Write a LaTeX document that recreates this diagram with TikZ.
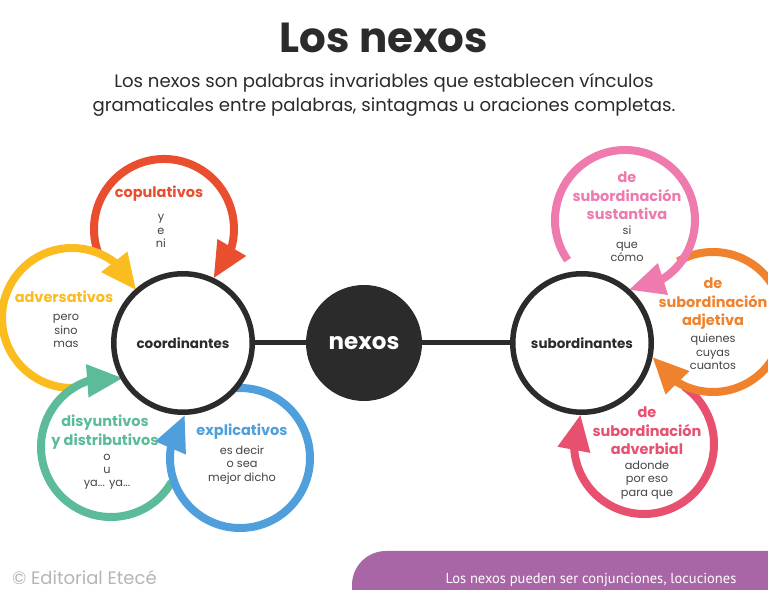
\documentclass[tikz,border=0pt]{standalone}
\usepackage{fontspec}
\setmainfont{Poppins}
\newfontfamily\ptsans{PT Sans}
\usetikzlibrary{arrows.meta,bending}
\definecolor{cred}{HTML}{E94E2F}
\definecolor{cyellow}{HTML}{FBBC1F}
\definecolor{cgreen}{HTML}{5CBB98}
\definecolor{cblue}{HTML}{4E9FDB}
\definecolor{cpink}{HTML}{EE7AAE}
\definecolor{corange}{HTML}{F0822E}
\definecolor{ccrimson}{HTML}{E8506F}
\definecolor{cdark}{HTML}{2B2B2B}
\definecolor{ctext}{HTML}{444444}
\definecolor{cpurple}{HTML}{A966A6}
\definecolor{cgray}{HTML}{B5B5B5}
\tikzset{
  ring/.style={line width=8pt, line cap=butt, -{Triangle[width=31pt,length=36pt]}},
  hub/.style={circle, draw=cdark, line width=5.5pt, fill=white, minimum size=138.5pt, inner sep=0pt,
    font=\bfseries\fontsize{13.5}{16}\selectfont, text=cdark},
  head/.style={font=\bfseries\fontsize{14.5}{18.5}\selectfont, align=center, inner sep=0pt},
  items/.style={font=\fontsize{11.3}{13.3}\selectfont, text=ctext, align=center, inner sep=0pt},
  link/.style={draw=cdark, line width=5pt}
}
\begin{document}
\begin{tikzpicture}[x=1pt,y=1pt]
\useasboundingbox (0,0) rectangle (768,589);
\clip (0,0) rectangle (768,589);
\fill[white] (0,0) rectangle (768,589);

% circle centres
\coordinate (cR) at (164,360);
\coordinate (cY) at (72,271);
\coordinate (cG) at (111,142);
\coordinate (cB) at (240,131);
\coordinate (cP) at (625,369);
\coordinate (cO) at (713,267);
\coordinate (cC) at (644,145);

% title
\node[font=\bfseries\fontsize{42}{48}\selectfont, text=cdark, inner sep=0pt] (title) at (384,551) {Los nexos};
\node[font=\fontsize{18.1}{24}\selectfont, text=cdark, align=center, inner sep=0pt] (sub) at (384,494)
  {Los nexos son palabras invariables que establecen vínculos\\gramaticales entre palabras, sintagmas u oraciones completas.};

% left rings
\draw[ring, cred] (cR) ++(200:70) arc[start angle=200, end angle=-45, radius=70];
\draw[ring, cyellow] (cY) ++(272:70) arc[start angle=272, end angle=23.3, radius=70];
\draw[ring, cgreen] (cG) ++(-30:70) arc[start angle=-30, end angle=-280, radius=70];
\draw[ring, cblue] (cB) ++(95:70) arc[start angle=95, end angle=-218, radius=70];

% right rings
\draw[ring, ccrimson] (cC) ++(55:70) arc[start angle=55, end angle=-205, radius=70];
\draw[ring, corange] (cO) ++(120:70) arc[start angle=120, end angle=-150, radius=70];
\draw[ring, cpink] (cP) ++(215:70) arc[start angle=215, end angle=-87, radius=70];

% hubs
\node[hub] (coord) at (183,246) {coordinantes};
\node[hub] (subord) at (582,246) {subordinantes};
\node[circle, fill=cdark, minimum size=116pt, inner sep=0pt, text=white,
  font=\bfseries\fontsize{23}{26}\selectfont] (nexos) at (364,246) {nexos};
\draw[link] (coord) -- (nexos);
\draw[link] (nexos) -- (subord);

% left labels
\node[head, text=cred] (lcop) at (159,395) {copulativos};
\node[items] (icop) at (161,358) {y\\e\\ni};
\node[head, text=cyellow] (ladv) at (64,292) {adversativos};
\node[items] (iadv) at (66,258) {pero\\sino\\mas};
\node[head, text=cgreen] (ldis) at (105,157) {disyuntivos\\y distributivos};
\node[items] (idis) at (107,117) {o\\u\\ya... ya...};
\node[head, text=cblue] (lexp) at (242,157) {explicativos};
\node[items] (iexp) at (242,124) {es decir\\o sea\\mejor dicho};

% right labels
\node[head, text=cpink] (lsus) at (627,393.3) {de\\subordinación\\sustantiva};
\node[items] (isus) at (627,345) {si\\que\\cómo};
\node[head, text=corange] (ladj) at (713,285.3) {de\\subordinación\\adjetiva};
\node[items] (iadj) at (713,237) {quienes\\cuyas\\cuantos};
\node[head, text=ccrimson] (ladvb) at (647,158.3) {de\\subordinación\\adverbial};
\node[items] (iadvb) at (647,109) {adonde\\por eso\\para que};

% footer
\fill[cpurple, rounded corners=34pt] (352,-40) rectangle (820,38);
\node[font=\ptsans\fontsize{14.5}{16}\selectfont, text=white, inner sep=0pt] (foot) at (591,9.5)
  {Los nexos pueden ser conjunciones, locuciones};
\node[font=\fontsize{18}{20}\selectfont, text=cgray, anchor=base west, inner sep=0pt] (copy) at (12,5)
  {© Editorial Etecé};
\end{tikzpicture}
\end{document}
